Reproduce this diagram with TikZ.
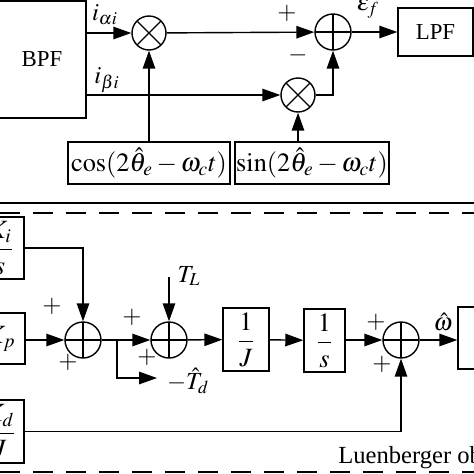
\documentclass[tikz,border=0pt]{standalone}
\usepackage{amsmath}
\usepackage{mathptmx}
\usepackage{fontspec}
\setmainfont{Liberation Serif}
\usetikzlibrary{
  arrows.meta,
  calc,
  positioning
}

\tikzset{
  blk/.style={draw,line width=0.8pt,inner sep=0pt},
  mult/.style={circle,draw,line width=0.8pt,minimum size=0.68cm,inner sep=0pt,
    path picture={\draw[line width=0.8pt]
      (path picture bounding box.north west) -- (path picture bounding box.south east)
      (path picture bounding box.south west) -- (path picture bounding box.north east);}},
  summ/.style={circle,draw,line width=0.8pt,minimum size=0.72cm,inner sep=0pt,
    path picture={\draw[line width=0.8pt]
      (path picture bounding box.north) -- (path picture bounding box.south)
      (path picture bounding box.west) -- (path picture bounding box.east);}},
  sig/.style={line width=0.8pt,-{Triangle[length=0.36cm,width=0.25cm]}},
  lbl/.style={inner sep=0pt},
  big/.style={font=\fontsize{15}{17}\selectfont}
}

\begin{document}
\begin{tikzpicture}[x=0.02cm,y=-0.02cm,font=\fontsize{14}{16}\selectfont]
      \useasboundingbox (0,0) rectangle (474,474);
      \clip (0,0) rectangle (474,474);

      % demodulation part
      \node[blk,minimum width=1.76cm,minimum height=2.34cm,font=\fontsize{13}{15}\selectfont]
        (bpf) at (42,59.5) {BPF};
      \node[mult] (m1) at (149,33) {};
      \node[mult] (m2) at (298,95) {};
      \node[summ] (s1) at (333,32) {};
      \node[blk,minimum width=1.5cm,minimum height=0.96cm,font=\fontsize{13}{15}\selectfont]
        (lpf) at (435.5,32) {LPF};
      \node[blk,big,minimum width=3.24cm,minimum height=0.84cm] (cosb) at (149,163)
        {$\cos(2\hat{\theta}_e-\omega_c t)$};
      \node[blk,big,minimum width=3.08cm,minimum height=0.84cm] (sinb) at (312,163)
        {$\sin(2\hat{\theta}_e-\omega_c t)$};

      \draw[sig] (bpf.east |- m1) -- (m1);
      \draw[sig] (bpf.east |- m2) -- (m2);
      \draw[sig] (cosb.north -| m1) -- (m1);
      \draw[sig] (sinb.north -| m2) -- (m2);
      \draw[sig] (m1) -- (s1);
      \draw[sig] (m2) -| (s1);
      \draw[sig] (s1) -- (lpf);

      \path (105,15) node[lbl] {$i_{\alpha i}$};
      \path (107,80) node[lbl] {$i_{\beta i}$};
      \path (368,8) node[lbl] {$\varepsilon_f$};
      \path (287,13) node[lbl] {$+$};
      \path (298,55) node[lbl] {$-$};

      % separators
      \draw[line width=0.6pt] (0,203) -- (474,203);
      \draw[line width=1.6pt,dash pattern=on 0.4cm off 0.26cm] (0,213) -- (474,213);
      \draw[line width=1.6pt,dash pattern=on 0.4cm off 0.26cm] (0,472) -- (474,472);

      % Luenberger observer
      \node[blk,big,minimum width=0.96cm,minimum height=1.24cm] (ki) at (0,248) {$\dfrac{K_i}{s}$};
      \node[blk,big,minimum width=0.96cm,minimum height=1.02cm] (kp) at (1,338.5) {$K_p$};
      \node[blk,big,minimum width=0.96cm,minimum height=1.26cm] (kd) at (0,431.5) {$\dfrac{K_d}{J}$};
      \node[summ] (sA) at (83,340) {};
      \node[summ] (sB) at (169,340) {};
      \node[blk,big,minimum width=0.92cm,minimum height=1.26cm] (invj) at (246,339.5) {$\dfrac{1}{J}$};
      \node[blk,big,minimum width=0.82cm,minimum height=1.26cm] (invs) at (324.5,340.5) {$\dfrac{1}{s}$};
      \node[summ] (sC) at (401,340) {};
      \node[blk,big,minimum width=0.96cm,minimum height=1.24cm] (outb) at (482,338) {$\dfrac{1}{s}$};

      \coordinate (br) at (117,340);
      \coordinate (td) at (157,378);
      \coordinate (tl) at (169,277);

      \draw[sig] (ki.east) -| (sA.north);
      \draw[sig] (kp.east |- sA) -- (sA);
      \draw[sig] (sA) -- (sB);
      \draw[sig] (br) |- (td);
      \draw[sig] (tl) -- (sB);
      \draw[sig] (sB) -- (invj);
      \draw[sig] (invj) -- (invs);
      \draw[sig] (invs.east |- sC) -- (sC);
      \draw[sig] (kd.east) -| (sC.south);
      \draw[sig] (sC) -- (outb.west |- sC);

      \path (52,306) node[lbl] {$+$};
      \path (68,362) node[lbl] {$+$};
      \path (132,317) node[lbl] {$+$};
      \path (147,357) node[lbl] {$+$};
      \path (376,322) node[lbl] {$+$};
      \path (382,364) node[lbl] {$+$};
      \path (189,276) node[lbl] {$T_L$};
      \path (188,381) node[lbl] {$-\hat{T}_d$};
      \path (443,322) node[lbl] {$\hat{\omega}$};
      \path (338,463) node[lbl,anchor=base west] {Luenberger observer};
    \end{tikzpicture}
\end{document}
